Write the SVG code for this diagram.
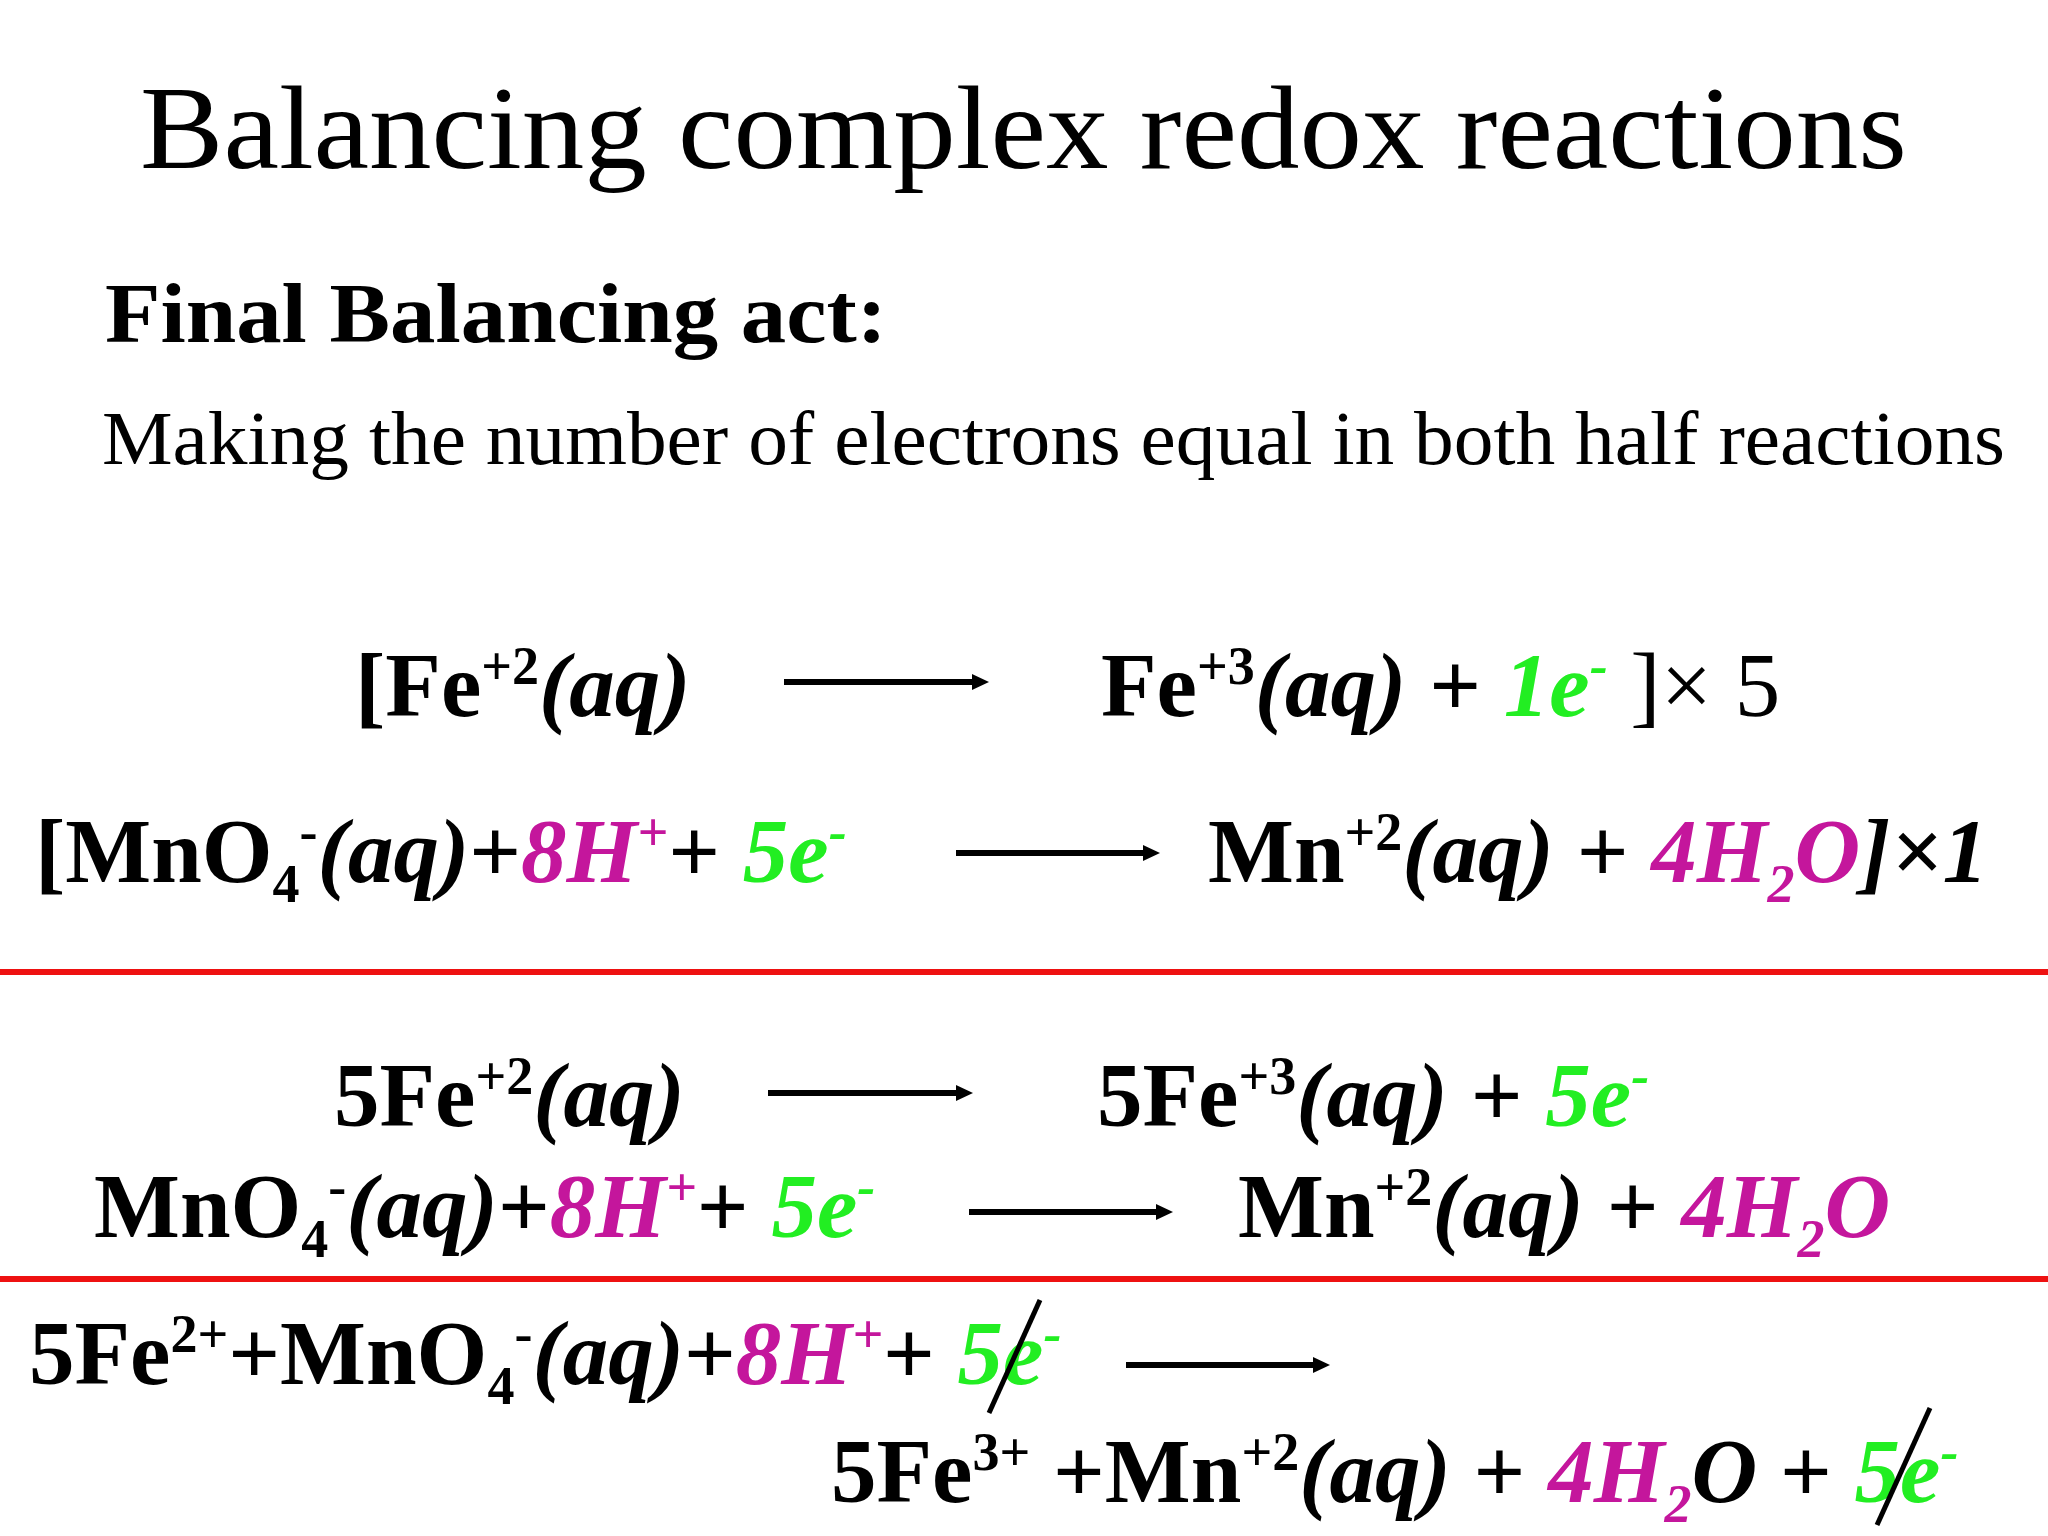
<svg xmlns="http://www.w3.org/2000/svg" width="2048" height="1536" viewBox="0 0 2048 1536">
<defs>
<style>
text{font-family:"Liberation Serif","Times New Roman",serif;fill:#000}
.eq{font-size:91px;font-weight:bold}
.i{font-style:italic}
.m{fill:#C4169C}
.g{fill:#22EE22}
.s{font-size:54px}
.n{font-weight:normal}
.arr{stroke:#000;stroke-width:6}
.red{stroke:#EE1111;stroke-width:6}
</style>
</defs>
<rect width="2048" height="1536" fill="#fff"/>
<text x="140" y="168" font-size="118" textLength="1767" lengthAdjust="spacingAndGlyphs">Balancing complex redox reactions</text>
<text x="105" y="342" font-size="84" font-weight="bold" textLength="782" lengthAdjust="spacingAndGlyphs">Final Balancing act:</text>
<text x="102" y="464" font-size="76" textLength="1903" lengthAdjust="spacingAndGlyphs">Making the number of electrons equal in both half reactions</text>
<g id="connectors">
<line class="arr" x1="784" y1="682" x2="975" y2="682"/><polygon points="989,682 972,674 972,690"/>
<line class="arr" x1="956" y1="853" x2="1146" y2="853"/><polygon points="1160,853 1143,845 1143,861"/>
<line class="arr" x1="768" y1="1093" x2="959" y2="1093"/><polygon points="973,1093 956,1085 956,1101"/>
<line class="arr" x1="969" y1="1212" x2="1159" y2="1212"/><polygon points="1173,1212 1156,1204 1156,1220"/>
<line class="arr" x1="1126" y1="1365" x2="1316" y2="1365"/><polygon points="1330,1365 1313,1357 1313,1373"/>
<line class="red" x1="0" y1="972" x2="2048" y2="972"/>
<line class="red" x1="0" y1="1279" x2="2048" y2="1279"/>
</g>
<g id="row1">
<text class="eq" x="355" y="716">[Fe<tspan class="s" dy="-32">+2</tspan><tspan class="i" dy="32">(aq)</tspan></text>
<text class="eq" x="1101" y="716">Fe<tspan class="s" dy="-32">+3</tspan><tspan class="i" dy="32">(aq)</tspan> + <tspan class="i g">1e</tspan><tspan class="s i g" dy="-32">-</tspan><tspan class="n" dy="32"> ]× 5</tspan></text>
</g>
<g id="row2">
<text class="eq" x="35" y="882">[MnO<tspan class="s" dy="20">4</tspan><tspan class="s" dy="-52">-</tspan><tspan class="i" dy="32">(aq)</tspan>+<tspan class="i m">8H</tspan><tspan class="s i m" dy="-32">+</tspan><tspan dy="32">+ </tspan><tspan class="i g">5e</tspan><tspan class="s i g" dy="-32">-</tspan></text>
<text class="eq" x="1208" y="882">Mn<tspan class="s" dy="-32">+2</tspan><tspan class="i" dy="32">(aq)</tspan> + <tspan class="i m">4H</tspan><tspan class="s i m" dy="20">2</tspan><tspan class="i m" dy="-20">O</tspan><tspan class="i">]×1</tspan></text>
</g>
<g id="row3">
<text class="eq" x="334" y="1126">5Fe<tspan class="s" dy="-32">+2</tspan><tspan class="i" dy="32">(aq)</tspan></text>
<text class="eq" x="1097" y="1126">5Fe<tspan class="s" dy="-32">+3</tspan><tspan class="i" dy="32">(aq)</tspan> + <tspan class="i g">5e</tspan><tspan class="s i g" dy="-32">-</tspan></text>
</g>
<g id="row4">
<text class="eq" x="94" y="1237">MnO<tspan class="s" dy="20">4</tspan><tspan class="s" dy="-52">-</tspan><tspan class="i" dy="32">(aq)</tspan>+<tspan class="i m">8H</tspan><tspan class="s i m" dy="-32">+</tspan><tspan dy="32">+ </tspan><tspan class="i g">5e</tspan><tspan class="s i g" dy="-32">-</tspan></text>
<text class="eq" x="1238" y="1237">Mn<tspan class="s" dy="-32">+2</tspan><tspan class="i" dy="32">(aq)</tspan> + <tspan class="i m">4H</tspan><tspan class="s i m" dy="20">2</tspan><tspan class="i m" dy="-20">O</tspan></text>
</g>
<g id="row5">
<text class="eq" x="29" y="1384">5Fe<tspan class="s" dy="-32">2+</tspan><tspan dy="32">+MnO</tspan><tspan class="s" dy="20">4</tspan><tspan class="s" dy="-52">-</tspan><tspan class="i" dy="32">(aq)</tspan>+<tspan class="i m">8H</tspan><tspan class="s i m" dy="-32">+</tspan><tspan dy="32">+ </tspan><tspan class="i g">5e</tspan><tspan class="s i g" dy="-32">-</tspan></text>
<line x1="1040" y1="1300" x2="989" y2="1413" stroke="#000" stroke-width="5"/>
</g>
<g id="row6">
<text class="eq" x="831" y="1502">5Fe<tspan class="s" dy="-32">3+</tspan><tspan dy="32"> +Mn</tspan><tspan class="s" dy="-32">+2</tspan><tspan class="i" dy="32">(aq)</tspan> + <tspan class="i m">4H</tspan><tspan class="s i m" dy="20">2</tspan><tspan class="i" dy="-20">O</tspan> + <tspan class="i g">5e</tspan><tspan class="s i g" dy="-32">-</tspan></text>
<line x1="1930" y1="1408" x2="1877" y2="1525" stroke="#000" stroke-width="5"/>
</g>
</svg>
